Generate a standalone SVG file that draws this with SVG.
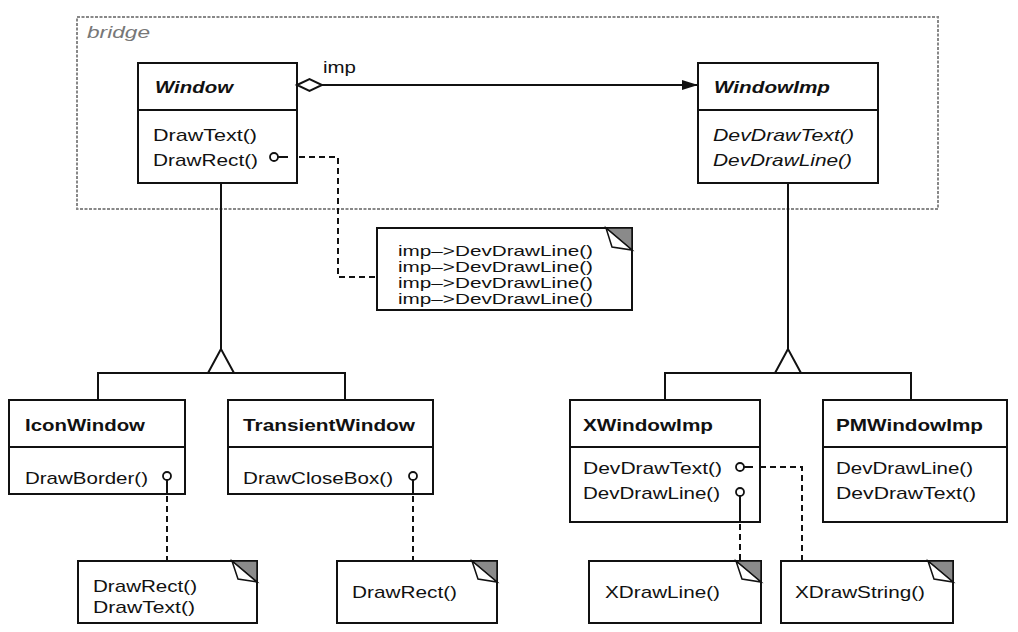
<svg xmlns="http://www.w3.org/2000/svg" width="1018" height="632" viewBox="0 0 1018 632">
<defs>
<style>
.box{fill:#fff;stroke:#111;stroke-width:2}
.ln{fill:none;stroke:#111;stroke-width:2}
.dash{fill:none;stroke:#111;stroke-width:2;stroke-dasharray:6 4}
.frame{fill:none;stroke:#888;stroke-width:2;stroke-dasharray:3 1.5}
.t{font-family:"Liberation Sans",Arial,sans-serif;font-size:17px;fill:#111}
.n{font-size:15px}
.b{font-weight:bold}
.i{font-style:italic}
.gray{fill:#8a8a8a;stroke:#111;stroke-width:1.5}
.fold{fill:#fff;stroke:#111;stroke-width:1.5}
.pin{fill:#fff;stroke:#111;stroke-width:1.8}
</style>
<marker id="arrow" markerWidth="16" markerHeight="10" refX="16" refY="5" orient="auto" markerUnits="userSpaceOnUse">
<path d="M0,0 L16,5 L0,10 Z" fill="#111"/>
</marker>
</defs>
<rect width="1018" height="632" fill="#fff"/>

<g id="bridge">
<rect class="frame" x="77" y="17" width="861" height="192"/>
<text class="t i" x="87" y="38" style="fill:#777" textLength="63" lengthAdjust="spacingAndGlyphs">bridge</text>
</g>

<g id="Window">
<rect class="box" x="138" y="63" width="159" height="120"/>
<line class="ln" x1="138" y1="110" x2="297" y2="110"/>
<text class="t b i" x="155" y="93" textLength="78" lengthAdjust="spacingAndGlyphs">Window</text>
<text class="t" x="153" y="141" textLength="104" lengthAdjust="spacingAndGlyphs">DrawText()</text>
<text class="t" x="153" y="166" textLength="105" lengthAdjust="spacingAndGlyphs">DrawRect()</text>
</g>

<g id="WindowImp">
<rect class="box" x="698" y="63" width="180" height="120"/>
<line class="ln" x1="698" y1="110" x2="878" y2="110"/>
<text class="t b i" x="714" y="93" textLength="116" lengthAdjust="spacingAndGlyphs">WindowImp</text>
<text class="t i" x="713" y="141" textLength="141" lengthAdjust="spacingAndGlyphs">DevDrawText()</text>
<text class="t i" x="713" y="166" textLength="139" lengthAdjust="spacingAndGlyphs">DevDrawLine()</text>
</g>

<g id="note-window">
<rect class="box" x="377" y="228" width="255" height="82"/>
<polygon class="gray" points="606,228 632,228 632,250"/>
<polygon class="fold" points="606,228 612,247 632,250"/>
<text class="t n" x="398" y="256" textLength="195" lengthAdjust="spacingAndGlyphs">imp–&gt;DevDrawLine()</text>
<text class="t n" x="398" y="272" textLength="195" lengthAdjust="spacingAndGlyphs">imp–&gt;DevDrawLine()</text>
<text class="t n" x="398" y="288" textLength="195" lengthAdjust="spacingAndGlyphs">imp–&gt;DevDrawLine()</text>
<text class="t n" x="398" y="304" textLength="195" lengthAdjust="spacingAndGlyphs">imp–&gt;DevDrawLine()</text>
</g>

<g id="IconWindow">
<rect class="box" x="9" y="400" width="176" height="94"/>
<line class="ln" x1="9" y1="447" x2="185" y2="447"/>
<text class="t b" x="25" y="431" textLength="120" lengthAdjust="spacingAndGlyphs">IconWindow</text>
<text class="t" x="25" y="484" textLength="123" lengthAdjust="spacingAndGlyphs">DrawBorder()</text>
</g>

<g id="TransientWindow">
<rect class="box" x="228" y="400" width="205" height="94"/>
<line class="ln" x1="228" y1="447" x2="433" y2="447"/>
<text class="t b" x="243" y="431" textLength="172" lengthAdjust="spacingAndGlyphs">TransientWindow</text>
<text class="t" x="243" y="484" textLength="150" lengthAdjust="spacingAndGlyphs">DrawCloseBox()</text>
</g>

<g id="XWindowImp">
<rect class="box" x="570" y="400" width="190" height="122"/>
<line class="ln" x1="570" y1="447" x2="760" y2="447"/>
<text class="t b" x="583" y="431" textLength="130" lengthAdjust="spacingAndGlyphs">XWindowImp</text>
<text class="t" x="583" y="474" textLength="139" lengthAdjust="spacingAndGlyphs">DevDrawText()</text>
<text class="t" x="583" y="499" textLength="137" lengthAdjust="spacingAndGlyphs">DevDrawLine()</text>
</g>

<g id="PMWindowImp">
<rect class="box" x="823" y="400" width="184" height="122"/>
<line class="ln" x1="823" y1="447" x2="1007" y2="447"/>
<text class="t b" x="836" y="431" textLength="147" lengthAdjust="spacingAndGlyphs">PMWindowImp</text>
<text class="t" x="836" y="474" textLength="137" lengthAdjust="spacingAndGlyphs">DevDrawLine()</text>
<text class="t" x="836" y="499" textLength="140" lengthAdjust="spacingAndGlyphs">DevDrawText()</text>
</g>

<g id="note-iconwindow">
<rect class="box" x="78" y="561" width="179" height="62"/>
<polygon class="gray" points="232,561 257,561 257,582"/>
<polygon class="fold" points="232,561 238,579 257,582"/>
<text class="t" x="93" y="592" textLength="104" lengthAdjust="spacingAndGlyphs">DrawRect()</text>
<text class="t" x="93" y="613" textLength="102" lengthAdjust="spacingAndGlyphs">DrawText()</text>
</g>

<g id="note-transientwindow">
<rect class="box" x="337" y="561" width="160" height="62"/>
<polygon class="gray" points="472,561 497,561 497,582"/>
<polygon class="fold" points="472,561 478,579 497,582"/>
<text class="t" x="352" y="598" textLength="105" lengthAdjust="spacingAndGlyphs">DrawRect()</text>
</g>

<g id="note-xdrawline">
<rect class="box" x="589" y="561" width="172" height="62"/>
<polygon class="gray" points="736,561 761,561 761,582"/>
<polygon class="fold" points="736,561 742,579 761,582"/>
<text class="t" x="605" y="598" textLength="115" lengthAdjust="spacingAndGlyphs">XDrawLine()</text>
</g>

<g id="note-xdrawstring">
<rect class="box" x="781" y="561" width="172" height="62"/>
<polygon class="gray" points="928,561 953,561 953,582"/>
<polygon class="fold" points="928,561 934,579 953,582"/>
<text class="t" x="795" y="598" textLength="130" lengthAdjust="spacingAndGlyphs">XDrawString()</text>
</g>

<g id="connectors">
<!-- aggregation Window -> WindowImp -->
<polygon points="297,85 309.5,79 322,85 309.5,91" fill="#fff" stroke="#111" stroke-width="2"/>
<line class="ln" x1="322" y1="85" x2="698" y2="85" marker-end="url(#arrow)"/>
<text class="t" x="323" y="73" textLength="33" lengthAdjust="spacingAndGlyphs">imp</text>
<!-- generalization left -->
<line class="ln" x1="221" y1="183" x2="221" y2="349"/>
<polygon points="221,349 208,373 234,373" fill="#fff" stroke="#111" stroke-width="2"/>
<polyline class="ln" points="98,400 98,373 345,373 345,400"/>
<!-- generalization right -->
<line class="ln" x1="788" y1="183" x2="788" y2="349"/>
<polygon points="788,349 775,373 801,373" fill="#fff" stroke="#111" stroke-width="2"/>
<polyline class="ln" points="665,400 665,373 911,373 911,400"/>
<!-- Window DrawRect -> note -->
<circle class="pin" cx="274" cy="157" r="4"/>
<line class="ln" x1="278" y1="157" x2="288" y2="157"/>
<polyline class="dash" points="299,157 338,157 338,277 377,277"/>
<!-- IconWindow -->
<circle class="pin" cx="167" cy="476" r="4"/>
<line class="ln" x1="167" y1="480" x2="167" y2="494"/>
<line class="dash" x1="167" y1="496" x2="167" y2="561"/>
<!-- TransientWindow -->
<circle class="pin" cx="413" cy="476" r="4"/>
<line class="ln" x1="413" y1="480" x2="413" y2="494"/>
<line class="dash" x1="413" y1="496" x2="413" y2="561"/>
<!-- XWindowImp DevDrawText -->
<circle class="pin" cx="740" cy="467" r="4"/>
<line class="ln" x1="744" y1="467" x2="753" y2="467"/>
<polyline class="dash" points="760,467 802,467 802,561"/>
<!-- XWindowImp DevDrawLine -->
<circle class="pin" cx="740" cy="492" r="4"/>
<line class="ln" x1="740" y1="496" x2="740" y2="522"/>
<line class="dash" x1="740" y1="524" x2="740" y2="561"/>
</g>
</svg>
